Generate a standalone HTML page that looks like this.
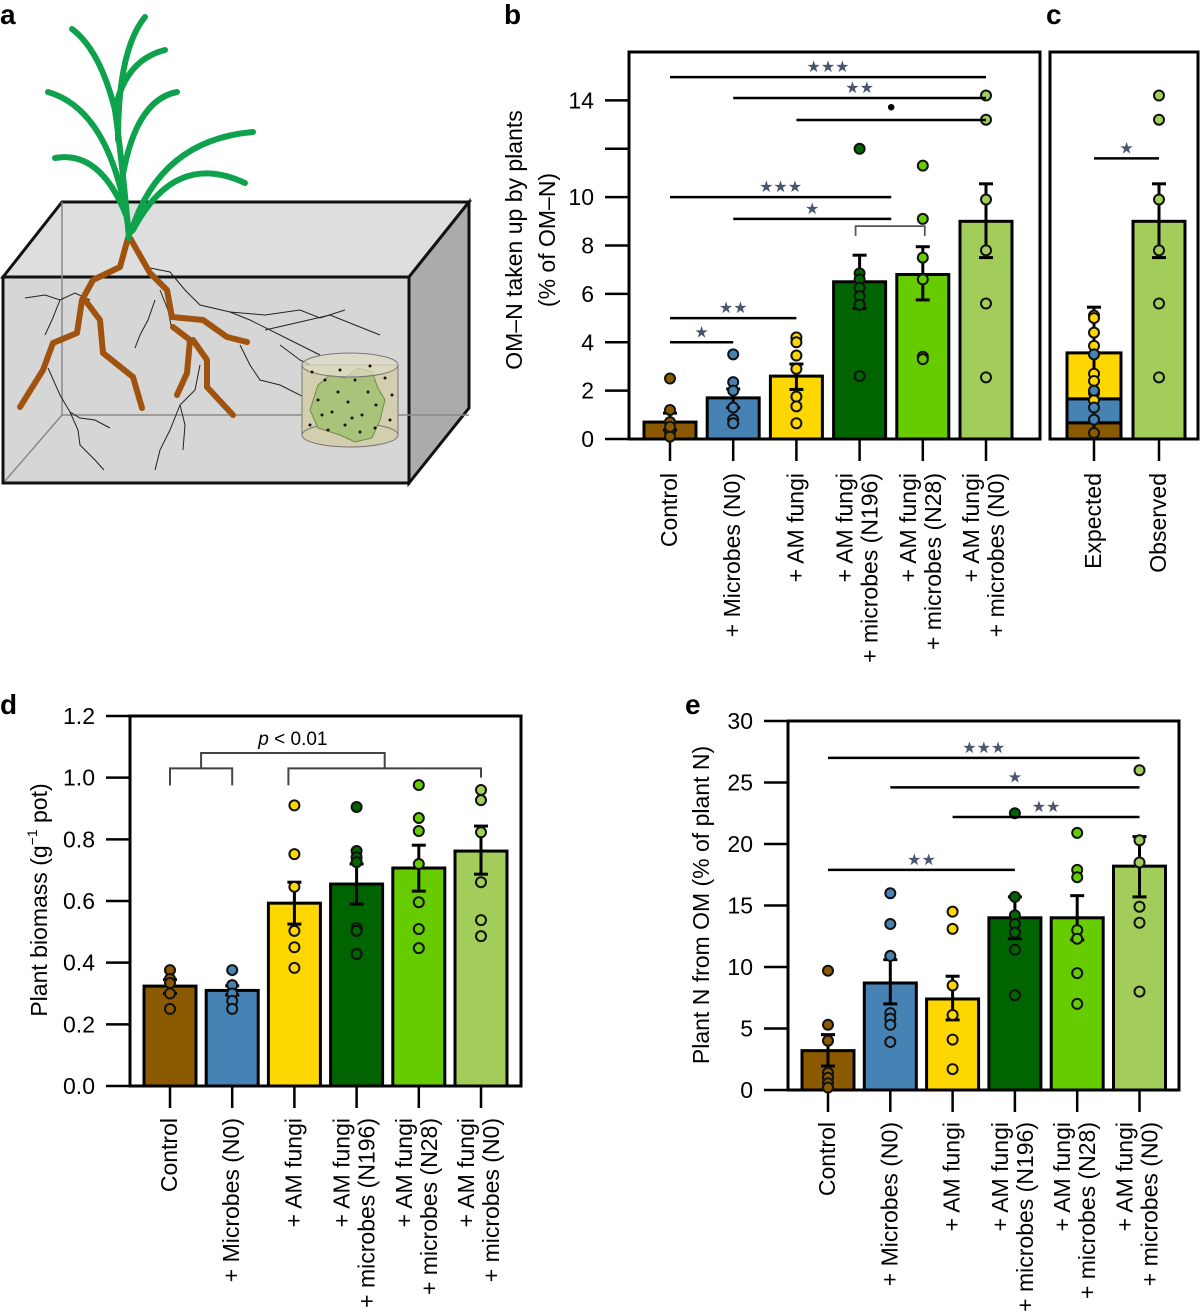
<!DOCTYPE html>
<html><head><meta charset="utf-8"><style>
body{margin:0;background:#fff}
svg{display:block;font-family:"Liberation Sans",Arial,sans-serif}
</style></head><body>
<svg id="fig" width="1200" height="1316" viewBox="0 0 1200 1316" xmlns="http://www.w3.org/2000/svg">
<g id="panelA">
  <polygon points="3,277 62,202 469,202 409,277" fill="#dedede" stroke="#111" stroke-width="3"/>
  <polygon points="409,277 469,202 469,408 409,483" fill="#ababab" stroke="#111" stroke-width="3"/>
  <rect x="3" y="277" width="406" height="206" fill="#d6d6d6" stroke="#111" stroke-width="3"/>
  <g stroke="#8a8a8a" stroke-width="1.5" fill="none">
    <line x1="62" y1="202" x2="62" y2="415"/><line x1="62" y1="415" x2="469" y2="415"/><line x1="62" y1="415" x2="5" y2="481"/>
  </g>
  <g stroke="#222" stroke-width="1" fill="none">
    <path d="M25,298 L45,295 L60,300 L75,293 L90,300"/>
    <path d="M60,300 L52,320 L45,335"/>
    <path d="M48,368 L60,395 L70,412 L80,418 L95,420 L110,428"/>
    <path d="M70,412 L78,430 L80,445 L95,460 L104,470"/>
    <path d="M155,300 L148,320 L140,335 L135,348"/>
    <path d="M160,290 L168,310 L172,330"/>
    <path d="M150,268 L170,272 L185,290 L200,305 L230,312 L250,320 L290,340 L320,355"/>
    <path d="M230,312 L265,315 L300,310 L320,318 L345,310"/>
    <path d="M265,330 L300,322 L330,315 L355,325 L380,335"/>
    <path d="M200,365 L195,390 L180,405 L170,430 L160,450 L155,470"/>
    <path d="M180,405 L185,425 L183,450"/>
    <path d="M240,345 L250,365 L260,380 L280,385 L300,395 L315,405"/>
    <path d="M280,345 L300,360 L320,370 L340,380 L360,395 L375,410"/>
  </g>
  <g>
    <rect x="302" y="365" width="96" height="70" fill="#d3cfae" stroke="#777" stroke-width="1"/>
    <ellipse cx="350" cy="435" rx="48" ry="12" fill="#d3cfae" stroke="#777"/>
    <path d="M318,385 L330,375 L345,378 L358,368 L372,372 L378,388 L385,400 L380,420 L372,438 L355,442 L340,435 L318,428 L310,410 Z" fill="#a9c47a" stroke="#6f8a4a"/>
    <ellipse cx="350" cy="365" rx="48" ry="12" fill="#dfdcc4" fill-opacity="0.7" stroke="#777"/>
    <g fill="#111">
      <circle cx="312" cy="372" r="1.5"/><circle cx="325" cy="380" r="1.5"/><circle cx="340" cy="370" r="1.5"/><circle cx="355" cy="380" r="1.5"/><circle cx="370" cy="366" r="1.5"/><circle cx="385" cy="378" r="1.5"/><circle cx="392" cy="395" r="1.5"/><circle cx="318" cy="400" r="1.5"/><circle cx="332" cy="412" r="1.5"/><circle cx="348" cy="402" r="1.5"/><circle cx="362" cy="415" r="1.5"/><circle cx="376" cy="405" r="1.5"/><circle cx="390" cy="420" r="1.5"/><circle cx="310" cy="425" r="1.5"/><circle cx="328" cy="430" r="1.5"/><circle cx="345" cy="425" r="1.5"/><circle cx="360" cy="432" r="1.5"/><circle cx="375" cy="428" r="1.5"/><circle cx="338" cy="392" r="1.5"/><circle cx="368" cy="392" r="1.5"/><circle cx="352" cy="418" r="1.5"/><circle cx="322" cy="415" r="1.5"/>
    </g>
  </g>
  <g stroke="#a0520f" stroke-width="6" fill="none" stroke-linecap="round" stroke-linejoin="round">
    <path d="M128,238 L120,267 L93,280 L82,300 L77,333 L53,343 L43,370 L20,407"/>
    <path d="M85,300 L100,320 L103,353 L133,377 L142,408"/>
    <path d="M130,238 L150,273 L167,290 L172,317 L203,320 L227,337 L247,342"/>
    <path d="M173,327 L190,340 L187,373 L177,395"/>
    <path d="M193,340 L207,360 L207,387 L233,415"/>
  </g>
  <g stroke="#0fa24c" stroke-width="6" fill="none" stroke-linecap="round">
    <path d="M129,238 Q122,160 115,110 Q100,50 72,29"/>
    <path d="M118,140 Q118,50 145,17"/>
    <path d="M115,110 Q125,60 165,50"/>
    <path d="M128,225 Q110,110 48,92"/>
    <path d="M122,180 Q135,100 177,92"/>
    <path d="M131,232 Q160,140 253,132"/>
    <path d="M126,215 Q100,150 55,158"/>
    <path d="M133,230 Q175,150 245,183"/>
  </g>
</g>
<text x="0" y="24" font-size="28" font-weight="bold">a</text>
<text x="504" y="24" font-size="28" font-weight="bold">b</text>
<text x="1046" y="24" font-size="28" font-weight="bold">c</text>
<text x="0" y="714" font-size="28" font-weight="bold">d</text>
<text x="685" y="714" font-size="28" font-weight="bold">e</text>
</svg>
<script>
const NS = "http://www.w3.org/2000/svg";
const svg = document.getElementById('fig');
const groupColors = ['#8B5A00','#4682B4','#FFD700','#006400','#66CC00','#A2CD5A'];
const groupLabels = [['Control'],['+ Microbes (N0)'],['+ AM fungi'],['+ AM fungi','+ microbes (N196)'],['+ AM fungi','+ microbes (N28)'],['+ AM fungi','+ microbes (N0)']];

// Panel b data
const bMeans = [0.7, 1.7, 2.6, 6.5, 6.8, 9.0];
const bErrHi = [1.07, 2.07, 3.1, 7.6, 7.95, 10.55];
const bErrLo = [0.37, 1.3, 2.05, 5.4, 5.75, 7.5];
const bPoints = [[2.5,1.2,0.7,0.3,0.1,0.5],[3.5,2.35,2.0,1.3,0.8,0.65],[4.2,4.0,3.45,2.9,1.75,1.35,0.65],[12.0,6.85,6.6,6.25,5.9,5.55,2.6],[11.3,9.1,7.5,6.6,3.4,3.3],[14.2,13.2,9.9,7.8,5.6,2.55]];
const bTicks = [0,2,4,6,8,10,12,14];
const bTickLabels = ['0','2','4','6','8','10','','14'];
const bSig = [[0,5,14.96,'★★★'],[1,5,14.1,'★★'],[2,5,13.19,'•'],[0,3.5,10.0,'★★★'],[1,3.5,9.1,'★'],[0,2,5.0,'★★'],[0,1,4.0,'★']];

// Panel c data
const cSegments = [0.67, 0.99, 1.9];
const cSegColors = ['#8B5A00','#4682B4','#FFD700'];
const cExpErrHi = 5.45;
const cExpPoints = [5.1,5.0,4.4,3.85,2.7,2.4,1.9,1.6];
const cExpBluePoints = [3.5,2.0,1.3,0.8];
const cExpBrownPoints = [0.25];
const cObsMean = 9.0;
const cObsErr = [7.5, 10.55];
const cObsPoints = [14.2,13.2,9.9,7.8,5.6,2.55];
const cLabels = ['Expected','Observed'];

// Panel d data
const dMeans = [0.324, 0.31, 0.593, 0.655, 0.707, 0.762];
const dErrHi = [0.345, 0.325, 0.661, 0.72, 0.781, 0.843];
const dErrLo = [0.30, 0.295, 0.525, 0.59, 0.632, 0.687];
const dPoints = [[0.376,0.347,0.334,0.30,0.25],[0.376,0.327,0.30,0.276,0.25],[0.91,0.752,0.646,0.503,0.45,0.383],[0.905,0.762,0.742,0.726,0.512,0.503,0.428],[0.976,0.869,0.827,0.72,0.596,0.509,0.447],[0.96,0.927,0.823,0.661,0.538,0.486]];
const dTicks = [0,0.2,0.4,0.6,0.8,1.0,1.2];
const dTickLabels = ['0.0','0.2','0.4','0.6','0.8','1.0','1.2'];

// Panel e data
const eMeans = [3.2, 8.7, 7.4, 14.0, 14.0, 18.2];
const eErrHi = [4.5, 10.6, 9.25, 15.7, 15.8, 20.6];
const eErrLo = [1.95, 7.0, 5.7, 12.3, 12.2, 15.7];
const ePoints = [[9.7,5.3,4.0,1.4,1.0,0.55,0.2],[16.0,13.5,10.9,6.25,5.8,5.3,3.9],[14.5,13.1,8.5,6.1,4.1,1.7],[22.5,15.7,14.2,13.5,12.8,11.4,7.7],[20.9,17.9,17.3,13.0,12.3,9.5,7.0],[26.0,20.3,18.5,14.9,13.6,8.0]];
const eTicks = [0,5,10,15,20,25,30];
const eTickLabels = ['0','5','10','15','20','25','30'];
const eSig = [[0,5,27.0,'★★★'],[1,5,24.6,'★'],[2,5,22.2,'★★'],[0,3,17.9,'★★']];

function mk(tag, attrs, parent){
  const el = document.createElementNS(NS, tag);
  for (const k in attrs) el.setAttribute(k, attrs[k]);
  (parent||svg).appendChild(el);
  return el;
}

function makeAxes(P, prefix, ticks, tickLabels, nCats){
  const g = mk('g', {});
  
  
  const box = mk('rect', {x:P.left, y:P.top, width:P.right-P.left, height:P.bottom-P.top, fill:'none', stroke:'#000', 'stroke-width':3}, g);
  
  
  if (ticks) ticks.forEach((t,i)=>{
    const y = P.y(t);
    const tk = mk('line', {x1:P.left-24, x2:P.left, y1:y, y2:y, stroke:'#000', 'stroke-width':2.5}, g);
    
    
    if (tickLabels[i] !== '') {
      const tl = mk('text', {x:P.left-35, y:y+8, 'font-size':23, 'text-anchor':'end'}, g);
      tl.textContent = tickLabels[i];
      
      
    }
  });
  for (let i=0;i<nCats;i++){
    const x = P.x(i);
    const tk = mk('line', {x1:x, x2:x, y1:P.bottom, y2:P.bottom+22, stroke:'#000', 'stroke-width':2.5}, g);
    
    
  }
  return g;
}

function xLabel(prefix, x, yEnd, lines){
  const g = mk('g', {});
  
  
  const offs = lines.length === 1 ? [7] : [-7, 18];
  lines.forEach((s,j)=>{
    const bx = x + offs[j];
    const t = mk('text', {x:bx, y:yEnd, 'font-size':23, 'text-anchor':'end', transform:`rotate(-90 ${bx} ${yEnd})`}, g);
    t.textContent = s;
  });
}

function drawBar(prefix, P, i, v, color){
  const r = mk('rect', {x:P.x(i)-26, y:P.y(v), width:52, height:P.bottom-P.y(v), fill:color, stroke:'#000', 'stroke-width':3});
  
  
}
function drawErr(prefix, P, i, lo, hi){
  const x = P.x(i);
  const g = mk('g', {stroke:'#000', 'stroke-width':3});
  
  
  mk('line', {x1:x, x2:x, y1:P.y(lo), y2:P.y(hi)}, g);
  mk('line', {x1:x-7, x2:x+7, y1:P.y(lo), y2:P.y(lo)}, g);
  mk('line', {x1:x-7, x2:x+7, y1:P.y(hi), y2:P.y(hi)}, g);
}
function drawPoints(prefix, P, i, vals, color){
  const g = mk('g', {});
  
  
  vals.forEach(v=>{
    const c = mk('circle', {cx:P.x(i), cy:P.y(v), r:5, fill:color, stroke:'#111', 'stroke-width':2}, g);
    
    
  });
}
function drawSig(prefix, P, sig){
  sig.forEach(s=>{
    const x1 = P.x(s[0]), x2 = P.x(s[1]), y = P.y(s[2]);
    const l = mk('line', {x1:x1, x2:x2, y1:y, y2:y, stroke:'#000', 'stroke-width':2.5});
    
    
    const t = mk('text', {x:(x1+x2)/2, y:y-5, 'font-size': s[3]==='•'?24:16, 'text-anchor':'middle', fill: s[3]==='•'?'#000':'#4a5570', 'letter-spacing':0});
    t.textContent = s[3];
    
    
  });
}
function yTitle(name, x, y, lines, lineGap){
  const g = mk('g', {});
  
  
  lines.forEach((s,j)=>{
    const bx = x + j*lineGap;
    const t = mk('text', {x:bx, y:y, 'font-size':23, 'text-anchor':'middle', transform:`rotate(-90 ${bx} ${y})`}, g);
    t.innerHTML = s;
  });
}

// ---- Panel b
const PB = {left:629, right:1040, top:52, bottom:439, x:i=>670+i*63.2};
PB.y = v => PB.bottom - v*(PB.bottom-PB.top)/16;
makeAxes(PB, 'panel-b', bTicks, bTickLabels, 6);
bMeans.forEach((v,i)=>drawBar('panel-b', PB, i, v, groupColors[i]));
bMeans.forEach((v,i)=>drawErr('panel-b', PB, i, bErrLo[i], bErrHi[i]));
bPoints.forEach((p,i)=>drawPoints('panel-b', PB, i, p, groupColors[i]));
drawSig('panel-b', PB, bSig);
(function(){
  const y = PB.y(8.8), y2 = PB.y(8.4), x1 = PB.x(3)-4, x2 = PB.x(4)+2;
  const br = mk('path', {d:`M${x1},${y2} L${x1},${y} L${x2},${y} L${x2},${y2}`, fill:'none', stroke:'#555', 'stroke-width':1.8});
  
  
})();
groupLabels.forEach((l,i)=>xLabel('panel-b', PB.x(i), 473, l));
yTitle('panel-b-y-axis-title', 522, 240, ['OM–N taken up by plants','(% of OM–N)'], 33);

// ---- Panel c
const PC = {left:1050, right:1198, top:52, bottom:439, x:i=>1094+i*65};
PC.y = v => PC.bottom - v*(PC.bottom-PC.top)/16;
makeAxes(PC, 'panel-c', null, null, 2);
(function(){
  let acc = 0;
  cSegments.forEach((s,j)=>{
    const r = mk('rect', {x:PC.x(0)-27, y:PC.y(acc+s), width:54, height:PC.y(acc)-PC.y(acc+s), fill:cSegColors[j], stroke:'#000', 'stroke-width':3});
    
    
    acc += s;
  });
  drawErr('panel-c', PC, 0, acc, cExpErrHi);
})();
drawBar('panel-c', PC, 1, cObsMean, groupColors[5]);
drawErr('panel-c', PC, 1, cObsErr[0], cObsErr[1]);
(function(){
  const x = PC.x(0);
  const lineEl = mk('line', {x1:x, x2:x, y1:PC.y(0.1), y2:PC.y(5.1), stroke:'#000', 'stroke-width':3});
  
  
})();
drawPoints('panel-c', PC, 0, cExpPoints, '#FFD700');
drawPoints('panel-c', PC, 0, cExpBluePoints, '#4682B4');
drawPoints('panel-c', PC, 0, cExpBrownPoints, '#8B5A00');
drawPoints('panel-c', PC, 1, cObsPoints, groupColors[5]);
drawSig('panel-c', PC, [[0,1,11.6,'★']]);
cLabels.forEach((l,i)=>xLabel('panel-c', PC.x(i), 473, [l]));

// ---- Panel d
const PD = {left:130, right:521, top:716, bottom:1086, x:i=>170+i*62.2};
PD.y = v => PD.bottom - v*(PD.bottom-PD.top)/1.2;
makeAxes(PD, 'panel-d', dTicks, dTickLabels, 6);
dMeans.forEach((v,i)=>drawBar('panel-d', PD, i, v, groupColors[i]));
dMeans.forEach((v,i)=>drawErr('panel-d', PD, i, dErrLo[i], dErrHi[i]));
dPoints.forEach((p,i)=>drawPoints('panel-d', PD, i, p, groupColors[i]));
(function(){
  const g = mk('g', {fill:'none', stroke:'#444', 'stroke-width':2});
  
  
  const yB = PD.y(1.03), yL = PD.y(0.975), yT = PD.y(1.08);
  mk('path', {d:`M${PD.x(0)},${yL} L${PD.x(0)},${yB} L${PD.x(1)},${yB} L${PD.x(1)},${yL}`}, g);
  mk('path', {d:`M${PD.x(2)-6},${yL} L${PD.x(2)-6},${yB} L${PD.x(5)},${yB} L${PD.x(5)},${PD.y(1.0)}`}, g);
  const m1 = (PD.x(0)+PD.x(1))/2, m2 = (PD.x(2)-6+PD.x(5))/2;
  mk('path', {d:`M${m1},${yB} L${m1},${yT} L${m2},${yT} L${m2},${yB}`}, g);
  const t = mk('text', {x:(m1+m2)/2, y:yT-8, 'font-size':19, 'text-anchor':'middle'});
  t.innerHTML = '<tspan font-style="italic">p</tspan> &lt; 0.01';
  
  
})();
groupLabels.forEach((l,i)=>xLabel('panel-d', PD.x(i), 1118, l));
yTitle('panel-d-y-axis-title', 47, 900, ['Plant biomass (g<tspan font-size="14" dy="-10">−1</tspan><tspan dy="10"> pot)</tspan>'], 0);

// ---- Panel e
const PE = {left:788, right:1179, top:721, bottom:1090, x:i=>828+i*62.3};
PE.y = v => PE.bottom - v*(PE.bottom-PE.top)/30;
makeAxes(PE, 'panel-e', eTicks, eTickLabels, 6);
eMeans.forEach((v,i)=>drawBar('panel-e', PE, i, v, groupColors[i]));
eMeans.forEach((v,i)=>drawErr('panel-e', PE, i, eErrLo[i], eErrHi[i]));
ePoints.forEach((p,i)=>drawPoints('panel-e', PE, i, p, groupColors[i]));
drawSig('panel-e', PE, eSig);
groupLabels.forEach((l,i)=>xLabel('panel-e', PE.x(i), 1122, l));
yTitle('panel-e-y-axis-title', 709, 905, ['Plant N from OM (% of plant N)'], 0);
</script>
</body></html>
